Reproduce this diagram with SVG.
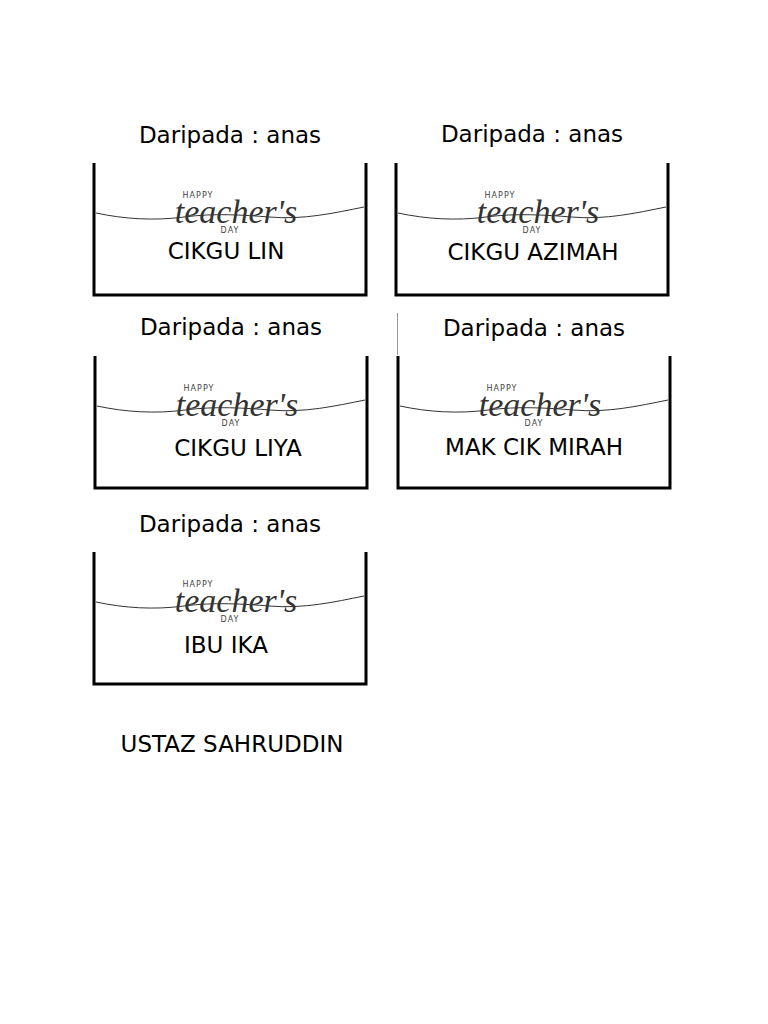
<svg xmlns="http://www.w3.org/2000/svg" width="768" height="1024" viewBox="0 0 768 1024">
<style>
.t{font-family:"DejaVu Sans",sans-serif;font-size:23px;fill:#000;text-anchor:middle}
.b{fill:none;stroke:#000;stroke-width:3}
.w{fill:none;stroke:#333;stroke-width:1}
.s{font-family:"DejaVu Sans",sans-serif;font-size:8px;fill:#444;letter-spacing:1px;text-anchor:middle}
.c{font-family:"Liberation Serif",serif;font-style:italic;font-size:34px;fill:#333;text-anchor:middle}
</style>
<defs>
<g id="deco">
<path class="b" d="M0,0 V132 H272 V0"/>
<path class="w" d="M2,50 C30,56 60,58 90,54 C120,50 150,52 175,54 C210,57 240,50 270,44"/>
<text class="s" x="104" y="35">HAPPY</text>
<text class="c" x="142" y="60">teacher's</text>
<text class="s" x="136" y="70">DAY</text>
</g>
</defs>
<g id="card1"><text class="t" x="230" y="143">Daripada : anas</text><use href="#deco" x="94" y="163"/><text class="t" x="226" y="259">CIKGU LIN</text></g>
<g id="card2"><text class="t" x="532" y="142">Daripada : anas</text><use href="#deco" x="396" y="163"/><text class="t" x="533" y="260">CIKGU AZIMAH</text></g>
<g id="card3"><text class="t" x="231" y="335">Daripada : anas</text><use href="#deco" x="95" y="356"/><text class="t" x="238" y="456">CIKGU LIYA</text></g>
<g id="card4"><line x1="397.5" y1="313" x2="397.5" y2="355" stroke="#999" stroke-width="1"/><text class="t" x="534" y="336">Daripada : anas</text><use href="#deco" x="398" y="356"/><text class="t" x="534" y="455">MAK CIK MIRAH</text></g>
<g id="card5"><text class="t" x="230" y="532">Daripada : anas</text><use href="#deco" x="94" y="552"/><text class="t" x="226" y="653">IBU IKA</text></g>
<g id="footer"><text class="t" x="232" y="752">USTAZ SAHRUDDIN</text></g>
<g id="connectors"/>
</svg>
